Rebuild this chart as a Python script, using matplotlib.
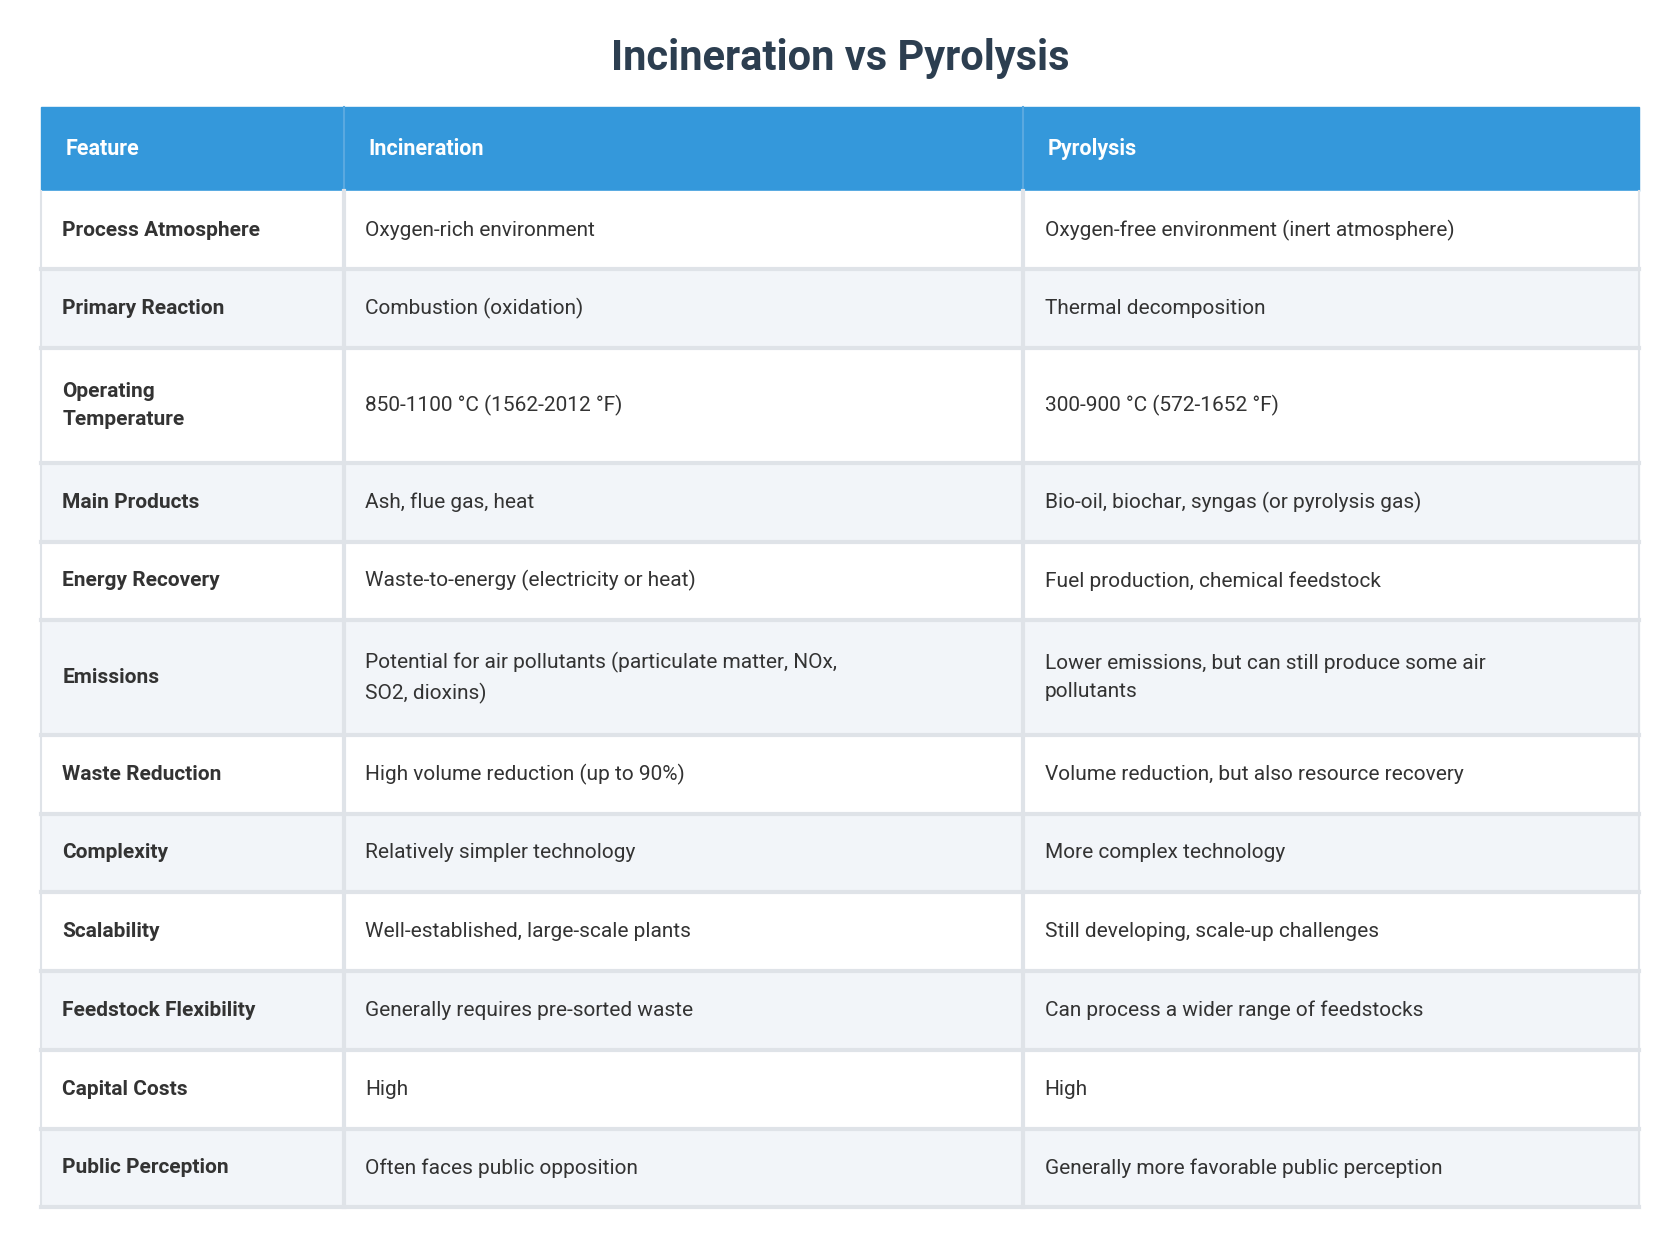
import matplotlib.pyplot as plt
from matplotlib.patches import Rectangle

# table content
title = "Incineration vs Pyrolysis"
headers = ["Feature", "Incineration", "Pyrolysis"]
features = ["Process Atmosphere", "Primary Reaction", "Operating\nTemperature",
            "Main Products", "Energy Recovery", "Emissions", "Waste Reduction",
            "Complexity", "Scalability", "Feedstock Flexibility", "Capital Costs",
            "Public Perception"]
incineration = ["Oxygen-rich environment", "Combustion (oxidation)",
                "850-1100 °C (1562-2012 °F)", "Ash, flue gas, heat",
                "Waste-to-energy (electricity or heat)",
                "Potential for air pollutants (particulate matter, NOx,\nSO2, dioxins)",
                "High volume reduction (up to 90%)", "Relatively simpler technology",
                "Well-established, large-scale plants", "Generally requires pre-sorted waste",
                "High", "Often faces public opposition"]
pyrolysis = ["Oxygen-free environment (inert atmosphere)", "Thermal decomposition",
             "300-900 °C (572-1652 °F)", "Bio-oil, biochar, syngas (or pyrolysis gas)",
             "Fuel production, chemical feedstock",
             "Lower emissions, but can still produce some air\npollutants",
             "Volume reduction, but also resource recovery", "More complex technology",
             "Still developing, scale-up challenges", "Can process a wider range of feedstocks",
             "High", "Generally more favorable public perception"]

W, H = 1568, 1165
fig = plt.figure(figsize=(16.8, 12.48), dpi=100)
ax = fig.add_axes([0, 0, 1, 1])
ax.set_xlim(0, W)
ax.set_ylim(H, 0)
ax.axis("off")
plt.rcParams['font.family'] = ['Roboto', 'DejaVu Sans']

ax.text(W / 2, 55, title, ha="center", va="center", fontsize=30,
        fontweight="bold", color="#2c3e50")

left, right = 38, 1530
cols = [38, 321, 955, 1530]
top, head_h = 100, 78
ax.add_patch(Rectangle((left, top), right - left, head_h, color="#3498db", zorder=1))
for i, h in enumerate(headers):
    ax.text(cols[i] + 23, top + head_h / 2, h, ha="left", va="center",
            fontsize=15.5, fontweight="bold", color="white", zorder=3)
for c in cols[1:-1]:
    ax.plot([c, c], [top, top + head_h], color="#5aa9e0", lw=1.5, zorder=2)

y = top + head_h
for r in range(len(features)):
    rh = 107 if "\n" in features[r] + incineration[r] + pyrolysis[r] else 73.5
    bg = "white" if r % 2 == 0 else "#f2f5f9"
    ax.add_patch(Rectangle((left, y), right - left, rh, color=bg, zorder=1))
    cells = [features[r], incineration[r], pyrolysis[r]]
    for i, t in enumerate(cells):
        ax.text(cols[i] + 20, y + rh / 2, t, ha="left", va="center",
                fontsize=15, linespacing=1.6, color="#333333",
                fontweight="bold" if i == 0 else "normal", zorder=3)
    ax.plot([left, right], [y + rh, y + rh], color="#dfe3e8", lw=3, zorder=2)
    y += rh
for c in cols:
    ax.plot([c, c], [top + head_h, y], color="#dfe3e8", lw=3 if c not in (left, right) else 1.5, zorder=2)

fig.savefig("out.png", dpi=100, facecolor="white")
